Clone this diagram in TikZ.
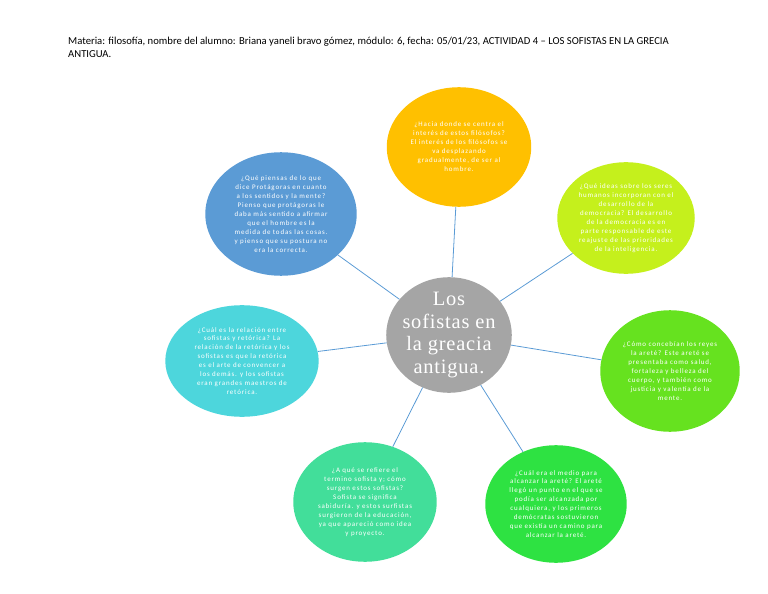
\documentclass[tikz,border=0pt]{standalone}
\usepackage{fontspec}
\setmainfont{Carlito}
\newfontfamily\qfont[LetterSpace=12]{Carlito}
\newfontfamily\centerfont[LetterSpace=4]{Liberation Serif}
\usetikzlibrary{shapes.geometric}
\definecolor{cyellow}{RGB}{255,192,0}
\definecolor{clime}{RGB}{197,240,28}
\definecolor{cgreen}{RGB}{102,226,31}
\definecolor{cgreenb}{RGB}{46,226,66}
\definecolor{cteal}{RGB}{66,222,154}
\definecolor{ccyan}{RGB}{77,214,220}
\definecolor{cblue}{RGB}{91,155,213}
\definecolor{cgray}{RGB}{165,165,165}
\begin{document}
\begin{tikzpicture}[x=1bp,y=-1bp,
  bubble/.style={ellipse,inner sep=-4pt,text=white,align=center,
    font=\qfont\fontsize{7}{9}\selectfont},
  link/.style={draw=cblue,line width=0.8pt}]
\useasboundingbox (0,0) rectangle (768,594);
% heading
\node[anchor=north west,align=left,inner sep=0pt,font=\fontsize{10.7}{13}\selectfont] (head) at (68,37)
  {Materia: filosofía, nombre del alumno: Briana yaneli bravo gómez, módulo: 6, fecha: 05/01/23, ACTIVIDAD 4 -- LOS SOFISTAS EN LA GRECIA\\ANTIGUA.};
% centre
\node[ellipse,fill=cgray,minimum width=126,minimum height=116,inner sep=-8pt,text=white,align=center,
  font=\centerfont\fontsize{20.5}{22.5}\selectfont] (c) at (449,335)
  {Los\\sofistas en\\la greacia\\antigua.};
% questions
\node[bubble,fill=cyellow,minimum width=145,minimum height=120] (q1) at (459,147)
  {¿Hacia donde se centra el\\interés de estos filósofos?\\El interés de los filósofos se\\va desplazando\\gradualmente, de ser al\\hombre.};
\node[bubble,fill=clime,minimum width=138,minimum height=112] (q2) at (626,218)
  {¿Qué ideas sobre los seres\\humanos incorporan con el\\desarrollo de la\\democracia? El desarrollo\\de la democracia es en\\parte responsable de este\\reajuste de las prioridades\\de la inteligencia.};
\node[bubble,fill=cgreen,minimum width=140,minimum height=122] (q3) at (670,371)
  {¿Cómo concebían los reyes\\la areté? Este areté se\\presentaba como salud,\\fortaleza y belleza del\\cuerpo, y también como\\justicia y valentía de la\\mente.};
\node[bubble,fill=cgreenb,minimum width=142,minimum height=118] (q4) at (556,504)
  {¿Cuál era el medio para\\alcanzar la areté? El areté\\llegó un punto en el que se\\podía ser alcanzada por\\cualquiera, y los primeros\\demócratas sostuvieron\\que existía un camino para\\alcanzar la areté.};
\node[bubble,fill=cteal,minimum width=144,minimum height=120] (q5) at (365,502)
  {¿A qué se refiere el\\termino sofista y; cómo\\surgen estos sofistas?\\Sofista se significa\\sabiduría. y estos surfistas\\surgieron de la educación,\\ya que apareció como idea\\y proyecto.};
\node[bubble,fill=ccyan,minimum width=154,minimum height=112] (q6) at (242,361)
  {¿Cuál es la relación entre\\sofistas y retórica? La\\relación de la retórica y los\\sofistas es que la retórica\\es el arte de convencer a\\los demás. y los sofistas\\eran grandes maestros de\\retórica.};
\node[bubble,fill=cblue,minimum width=152,minimum height=124] (q7) at (281,214)
  {¿Qué piensas de lo que\\dice Protágoras en cuanto\\a los sentidos y la mente?\\Pienso que protágoras le\\daba más sentido a afirmar\\que el hombre es la\\medida de todas las cosas.\\y pienso que su postura no\\era la correcta.};
% links
\foreach \q in {q1,q2,q3,q4,q5,q6,q7}
  \draw[link] (c) -- (\q);
\end{tikzpicture}
\end{document}
